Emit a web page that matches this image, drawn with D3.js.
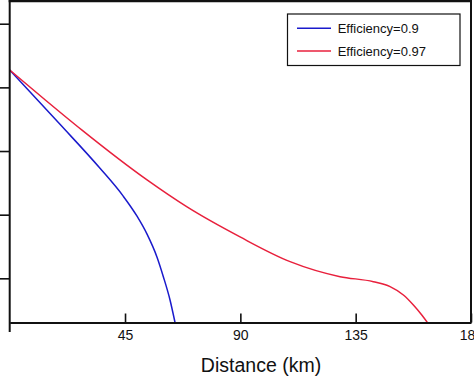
<!DOCTYPE html>
<html><head><meta charset="utf-8">
<script src="https://cdn.jsdelivr.net/npm/d3@7"></script>
<style>html,body{margin:0;padding:0;background:#fff;}svg{display:block;}</style>
</head><body>
<svg id="chart" width="474" height="378"></svg>
<script>
// Data (distance in km, quantity in arbitrary units)
const seriesNames = ["Efficiency=0.9", "Efficiency=0.97"];
const seriesColors = ["#1a1acc", "#e8203c"];
const blueX = [0, 19.63, 35.24, 44.22, 49.68, 53.59, 57.49, 59.95, 62.56, 64.51];
const blueY = [4.273, 3.420, 2.729, 2.295, 1.976, 1.694, 1.332, 1.026, 0.660, 0.306];
const redX = [0, 13.78, 28.10, 53.59, 69.20, 89.88, 109.40, 128.91, 141.91, 148.42, 153.62, 157.52, 160.80, 162.98];
const redY = [4.273, 3.805, 3.331, 2.545, 2.121, 1.650, 1.262, 1.026, 0.947, 0.869, 0.738, 0.581, 0.424, 0.306];
const xTicks = [45, 90, 135, 180];
const yTicks = [1, 2, 3, 4, 5];
const xDomain = [0, 180];
const yDomain = [0.306, 5.357];
const xTitle = "Distance (km)";

const svg = d3.select("#chart");
const L = 9.7, R = 471, T = 1, B = 322.5;
const x = d3.scaleLinear().domain(xDomain).range([L, R]);
const y = d3.scaleLinear().domain(yDomain).range([B, T]);

const series = [
  {name: seriesNames[0], color: seriesColors[0], pts: blueX.map((v,i)=>[v, blueY[i]])},
  {name: seriesNames[1], color: seriesColors[1], pts: redX.map((v,i)=>[v, redY[i]])}
];

const line = d3.line().x(d=>x(d[0])).y(d=>y(d[1])).curve(d3.curveMonotoneX);
series.forEach(s => {
  svg.append("path").attr("d", line(s.pts)).attr("fill","none")
    .attr("stroke", s.color).attr("stroke-width", 1.5);
});

// frame
svg.append("line").attr("x1", L-1).attr("x2", R+1).attr("y1", T).attr("y2", T).attr("stroke","#111").attr("stroke-width",2.5);
svg.append("line").attr("x1", R).attr("x2", R).attr("y1", T).attr("y2", B).attr("stroke","#111").attr("stroke-width",2);
svg.append("line").attr("x1", L).attr("x2", L).attr("y1", 0).attr("y2", B+9.5).attr("stroke","#111").attr("stroke-width",2);

// x axis
const xAxis = d3.axisBottom(x).tickValues(xTicks).tickSizeInner(-9).tickSizeOuter(0).tickPadding(7.5);
const gx = svg.append("g").attr("transform", `translate(0,${B})`).call(xAxis);
gx.select(".domain").attr("stroke","#111").attr("stroke-width",2);
gx.selectAll(".tick line").attr("stroke","#111").attr("stroke-width",1.6);
gx.selectAll(".tick text").attr("font-family","Liberation Sans, Arial, sans-serif").attr("font-size",14).attr("fill","#111");

// y axis ticks (labels are outside the visible area)
const yAxis = d3.axisLeft(y).tickValues(yTicks).tickSize(10).tickFormat("");
const gy = svg.append("g").attr("transform", `translate(${L},0)`).call(yAxis);
gy.select(".domain").remove();
gy.selectAll(".tick line").attr("stroke","#111").attr("stroke-width",1.6);

// x title
svg.append("text").attr("x", 261).attr("y", 372).attr("text-anchor","middle")
  .attr("font-family","Liberation Sans, Arial, sans-serif").attr("font-size",19.5).attr("fill","#111").text(xTitle);

// legend
const lg = svg.append("g");
lg.append("rect").attr("x",287.5).attr("y",14).attr("width",172.5).attr("height",51.5)
  .attr("fill","#fff").attr("stroke","#111").attr("stroke-width",1.2);
series.forEach((s,i) => {
  const yy = 28.3 + i*22.7;
  lg.append("line").attr("x1",297).attr("x2",331).attr("y1",yy).attr("y2",yy).attr("stroke",s.color).attr("stroke-width",1.6);
  lg.append("text").attr("x",337.7).attr("y",yy+4.5).attr("font-family","Liberation Sans, Arial, sans-serif")
    .attr("font-size",13).attr("fill","#111").text(s.name);
});
</script>
</body></html>
